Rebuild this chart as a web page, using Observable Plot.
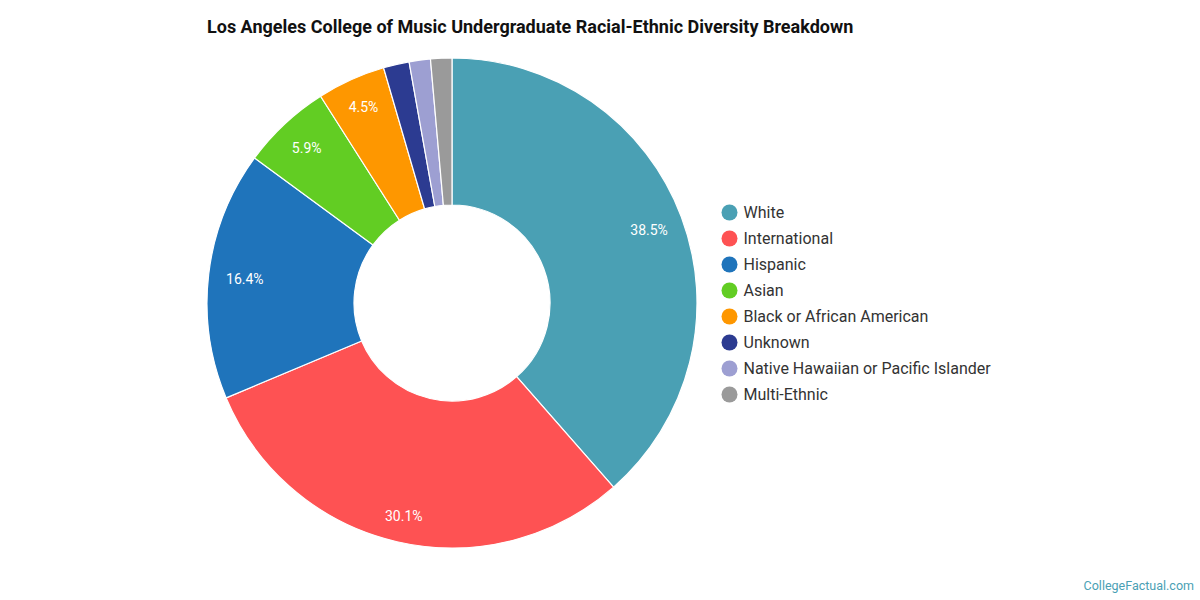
<!DOCTYPE html>
<html><head><meta charset="utf-8">
<script src="https://cdn.jsdelivr.net/npm/d3@7"></script>
<script src="https://cdn.jsdelivr.net/npm/@observablehq/plot@0.6"></script>
<style>
body{margin:0;background:#fff;font-family:Roboto, "Liberation Sans", sans-serif;}
#wrap{position:relative;width:1200px;height:600px;overflow:hidden;}
#chart{position:absolute;left:0;top:0;}
#title{position:absolute;left:207px;top:16px;font-size:18px;font-weight:bold;color:#111;white-space:nowrap;}
#credit{position:absolute;right:6px;top:578px;font-size:12.5px;color:#4a9fb4;}
</style></head>
<body>
<div id="wrap">
  <div id="chart"></div>
  <div id="title">Los Angeles College of Music Undergraduate Racial-Ethnic Diversity Breakdown</div>
  <div id="credit">CollegeFactual.com</div>
</div>
<script>
const categories = ["White", "International", "Hispanic", "Asian", "Black or African American", "Unknown", "Native Hawaiian or Pacific Islander", "Multi-Ethnic"];
const shares = [38.5, 30.1, 16.4, 5.9, 4.5, 1.7, 1.4, 1.4];
const colors = ["#4aa0b4", "#fe5253", "#1f74bb", "#62cd23", "#fe9700", "#2c3b91", "#9d9fd2", "#9a9a9a"];

const cx = 452, cy = 303, outerR = 245, innerR = 98;
const data = categories.map((c, i) => ({category: c, share: shares[i], color: colors[i], i}));
const arcs = d3.pie().sort(null).value(d => d.share)(data);
const labels = arcs.filter(a => a.data.share >= 4).map(a => {
  const m = (a.startAngle + a.endAngle) / 2;
  const r = 209 + 8.5 * Math.cos(m) ** 2;
  return {x: cx + r * Math.sin(m), y: cy - r * Math.cos(m) + 1, text: a.data.share.toFixed(1) + "%"};
});
const legend = data.map((d, i) => ({...d, lx: 729, ly: 212 + 26 * i}));

const chart = Plot.plot({
  width: 1200, height: 600,
  margin: 0,
  x: {domain: [0, 1200], range: [0, 1200], axis: null},
  y: {domain: [0, 600], range: [0, 600], axis: null},
  style: {fontFamily: "Roboto, sans-serif", background: "#fff"},
  marks: [
    (index, scales) => {
      const g = d3.create("svg:g")
        .attr("transform", `translate(${scales.x(cx)},${scales.y(cy)})`);
      const arc = d3.arc().innerRadius(innerR).outerRadius(outerR);
      g.selectAll("path").data(arcs).join("path")
        .attr("d", arc)
        .attr("fill", a => a.data.color)
        .attr("stroke", "#fff")
        .attr("stroke-width", 1.2);
      return g.node();
    },
    Plot.text(labels, {x: "x", y: "y", text: "text", fill: "#fff", fontSize: 14}),
    Plot.dot(legend, {x: "lx", y: "ly", r: 8, fill: "color", stroke: null}),
    Plot.text(legend, {x: d => d.lx + 14, y: "ly", text: "category", textAnchor: "start", fontSize: 16, fill: "#333"})
  ]
});
document.getElementById("chart").appendChild(chart);
</script>
</body></html>
